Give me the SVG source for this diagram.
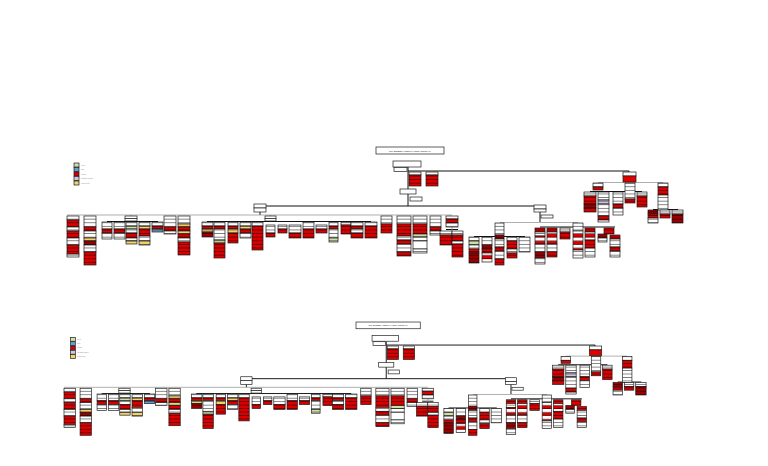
<svg xmlns="http://www.w3.org/2000/svg" xmlns:xlink="http://www.w3.org/1999/xlink" width="768" height="466" viewBox="0 0 768 466">
<defs>
<pattern id="pW" width="4" height="3.6" patternUnits="userSpaceOnUse"><rect width="4" height="3.6" fill="#fff"/><rect y="3" width="4" height="0.6" fill="#333"/></pattern>
<pattern id="pR" width="4" height="3.6" patternUnits="userSpaceOnUse"><rect width="4" height="3.6" fill="#d80000"/><rect y="3" width="4" height="0.6" fill="#300"/></pattern>
<pattern id="pD" width="4" height="3.6" patternUnits="userSpaceOnUse"><rect width="4" height="3.6" fill="#9a0000"/><rect y="3" width="4" height="0.6" fill="#200"/></pattern>
<pattern id="pM" width="4" height="7.2" patternUnits="userSpaceOnUse"><rect width="4" height="3.6" fill="#fff"/><rect y="3.6" width="4" height="3.6" fill="#d80000"/><rect y="3" width="4" height="0.6" fill="#333"/><rect y="6.6" width="4" height="0.6" fill="#300"/></pattern>
<pattern id="pY" width="4" height="3.6" patternUnits="userSpaceOnUse"><rect width="4" height="3.6" fill="#f2d36a"/><rect y="3" width="4" height="0.6" fill="#333"/></pattern>
<pattern id="pG" width="4" height="3.6" patternUnits="userSpaceOnUse"><rect width="4" height="3.6" fill="#cfe0a6"/><rect y="3" width="4" height="0.6" fill="#333"/></pattern>
<pattern id="pL" width="4" height="3.6" patternUnits="userSpaceOnUse"><rect width="4" height="3.6" fill="#cdc6dc"/><rect y="3" width="4" height="0.6" fill="#333"/></pattern>
<pattern id="pB" width="4" height="3.6" patternUnits="userSpaceOnUse"><rect width="4" height="3.6" fill="#5f9fd2"/><rect y="3" width="4" height="0.6" fill="#333"/></pattern>
</defs>
<style>
.n rect{stroke:#1a1a1a;stroke-width:0.7}
.h{fill:#fff}
.w{fill:url(#pW)} .r{fill:url(#pR)} .d{fill:url(#pD)} .m{fill:url(#pM)}
.y{fill:url(#pY)} .g{fill:url(#pG)} .l{fill:url(#pL)} .b{fill:url(#pB)}
.lk{stroke:#111;stroke-width:1;fill:none}
.lg{stroke:#999;stroke-width:0.8;fill:none}
.t{font-family:"Liberation Sans",Arial,sans-serif;font-size:2.2px;fill:#222;text-anchor:middle}
.lt{font-family:"Liberation Sans",Arial,sans-serif;font-size:1.6px;fill:#888}
</style>
<rect width="768" height="466" fill="#fff"/>
<g id="chart">
<g id="connectors">
<path class="lk" d="M408,167V206M408,171H629V172M260,206H540M260,212V215M540,212V222M474,236.5H525M540,227H615M590,191.5H642M653,209.5H678M107,221.5H158M207,221.5H371M446,229.5H458"/>
<path class="lg" d="M67,215H452M500,222.5H578M598,182.5H663M131,215V216M270,215V216M452,227V231"/>
</g>
<g id="legend" class="n">
<rect x="74" y="163" width="5" height="4" fill="#cfe0a6"/>
<rect x="74" y="167.5" width="5" height="4" fill="#5f9fd2"/>
<rect x="74" y="172" width="5" height="4" fill="#d80000"/>
<rect x="74" y="176.5" width="5" height="4" fill="#cdc6dc"/>
<rect x="74" y="181" width="5" height="4" fill="#f2d36a"/>
<text class="lt" x="81" y="165.5">Filled</text>
<text class="lt" x="81" y="170">New</text>
<text class="lt" x="81" y="174.5">Vacant</text>
<text class="lt" x="81" y="179">Contract position</text>
<text class="lt" x="81" y="183.5">Frozen post</text>
</g>
<g id="title" class="n"><rect class="h" x="376" y="147" width="68" height="7"/><text class="t" x="410" y="151.5">DR. ERNEST HOSPITAL ORGANOGRAM</text></g>
<g id="director" class="n"><rect class="h" x="393" y="161" width="28" height="6"/><rect class="h" x="394" y="167.5" width="13" height="4"/></g>
<g id="dir-units" class="n"><rect class="h" x="409" y="172" width="12" height="3"/><rect class="r" x="409" y="175" width="12" height="11"/><rect class="h" x="426" y="172" width="12" height="3"/><rect class="r" x="426" y="175" width="12" height="11"/></g>
<g id="deputy" class="n"><rect class="h" x="400" y="189" width="16" height="5"/><rect class="h" x="410" y="197" width="12" height="4"/></g>
<g id="left-head" class="n"><rect class="h" x="254" y="204" width="12" height="4"/><rect class="h" x="254" y="208" width="12" height="4"/></g>
<g id="right-head" class="n"><rect class="h" x="534" y="205" width="12" height="4"/><rect class="h" x="534" y="209" width="12" height="3"/><rect class="h" x="541" y="215" width="12" height="3"/></g>
<g id="n1" class="n"><rect class="w" x="67" y="216" width="12" height="4"/><rect class="r" x="67" y="220" width="12" height="7"/><rect class="w" x="67" y="227" width="12" height="4"/><rect class="r" x="67" y="231" width="12" height="7"/><rect class="w" x="67" y="238" width="12" height="7"/><rect class="r" x="67" y="245" width="12" height="9"/><rect class="w" x="67" y="254" width="12" height="3"/></g>
<g id="n2" class="n"><rect class="w" x="84" y="216" width="12" height="11"/><rect class="r" x="84" y="227" width="12" height="4"/><rect class="w" x="84" y="231" width="12" height="7"/><rect class="y" x="84" y="238" width="12" height="3"/><rect class="d" x="84" y="241" width="12" height="4"/><rect class="w" x="84" y="245" width="12" height="7"/><rect class="r" x="84" y="252" width="12" height="13"/></g>
<g id="n3" class="n"><rect class="h" x="125" y="216" width="12" height="2.5"/><rect class="h" x="125" y="218.5" width="12" height="2.5"/></g>
<g id="n3a" class="n"><rect class="w" x="102" y="222" width="10" height="7"/><rect class="r" x="102" y="229" width="10" height="4"/><rect class="w" x="102" y="233" width="10" height="6"/></g>
<g id="n3b" class="n"><rect class="w" x="114" y="222" width="11" height="7"/><rect class="r" x="114" y="229" width="11" height="4"/><rect class="w" x="114" y="233" width="11" height="6"/></g>
<g id="n3c" class="n"><rect class="w" x="126" y="222" width="11" height="4"/><rect class="g" x="126" y="226" width="11" height="3"/><rect class="w" x="126" y="229" width="11" height="4"/><rect class="r" x="126" y="233" width="11" height="5"/><rect class="w" x="126" y="238" width="11" height="3"/><rect class="y" x="126" y="241" width="11" height="3"/></g>
<g id="n3d" class="n"><rect class="w" x="139" y="222" width="11" height="4"/><rect class="y" x="139" y="226" width="11" height="3"/><rect class="r" x="139" y="229" width="11" height="7"/><rect class="w" x="139" y="236" width="11" height="5"/><rect class="y" x="139" y="241" width="11" height="4"/></g>
<g id="n3e" class="n"><rect class="w" x="152" y="222" width="11" height="4"/><rect class="r" x="152" y="226" width="11" height="3"/><rect class="b" x="152" y="229" width="11" height="3"/></g>
<g id="n4" class="n"><rect class="w" x="164" y="216" width="12" height="11"/><rect class="r" x="164" y="227" width="12" height="4"/><rect class="w" x="164" y="231" width="12" height="3"/></g>
<g id="n5" class="n"><rect class="w" x="178" y="216" width="12" height="8"/><rect class="y" x="178" y="224" width="12" height="3"/><rect class="r" x="178" y="227" width="12" height="4"/><rect class="y" x="178" y="231" width="12" height="3"/><rect class="r" x="178" y="234" width="12" height="4"/><rect class="w" x="178" y="238" width="12" height="4"/><rect class="r" x="178" y="242" width="12" height="13"/></g>
<g id="mid-head" class="n"><rect class="h" x="265" y="216" width="11" height="2.5"/><rect class="h" x="265" y="218.5" width="11" height="2.5"/></g>
<g id="n6" class="n"><rect class="w" x="202" y="222" width="11" height="4"/><rect class="r" x="202" y="226" width="11" height="3"/><rect class="y" x="202" y="229" width="11" height="3"/><rect class="d" x="202" y="232" width="11" height="5"/></g>
<g id="n7" class="n"><rect class="w" x="214" y="222" width="11" height="4"/><rect class="r" x="214" y="226" width="11" height="3"/><rect class="w" x="214" y="229" width="11" height="11"/><rect class="g" x="214" y="240" width="11" height="3"/><rect class="r" x="214" y="243" width="11" height="15"/></g>
<g id="n8" class="n"><rect class="w" x="228" y="222" width="10" height="4"/><rect class="r" x="228" y="226" width="10" height="3"/><rect class="y" x="228" y="229" width="10" height="4"/><rect class="r" x="228" y="233" width="10" height="10"/></g>
<g id="n9" class="n"><rect class="w" x="240" y="222" width="11" height="4"/><rect class="y" x="240" y="226" width="11" height="3"/><rect class="r" x="240" y="229" width="11" height="4"/><rect class="w" x="240" y="233" width="11" height="5"/></g>
<g id="n10" class="n"><rect class="w" x="252" y="222" width="11" height="4"/><rect class="r" x="252" y="226" width="11" height="24"/></g>
<g id="n11" class="n"><rect class="w" x="266" y="225" width="9" height="8"/><rect class="r" x="266" y="233" width="9" height="4"/></g>
<g id="n12" class="n"><rect class="w" x="278" y="225" width="9" height="4"/><rect class="r" x="278" y="229" width="9" height="4"/></g>
<g id="n13" class="n"><rect class="w" x="289" y="225" width="12" height="8"/><rect class="r" x="289" y="233" width="12" height="5"/></g>
<g id="n14" class="n"><rect class="w" x="303" y="222" width="11" height="7"/><rect class="r" x="303" y="229" width="11" height="9"/></g>
<g id="n15" class="n"><rect class="w" x="316" y="225" width="11" height="4"/><rect class="r" x="316" y="229" width="11" height="4"/></g>
<g id="n16" class="n"><rect class="w" x="329" y="222" width="9" height="4"/><rect class="r" x="329" y="226" width="9" height="3"/><rect class="w" x="329" y="229" width="9" height="9"/><rect class="g" x="329" y="238" width="9" height="4"/></g>
<g id="n17" class="n"><rect class="w" x="341" y="222" width="10" height="3"/><rect class="r" x="341" y="225" width="10" height="9"/></g>
<g id="n18" class="n"><rect class="w" x="351" y="222" width="12" height="4"/><rect class="r" x="351" y="226" width="12" height="3"/><rect class="w" x="351" y="229" width="12" height="4"/><rect class="r" x="351" y="233" width="12" height="5"/></g>
<g id="n19" class="n"><rect class="w" x="365" y="222" width="12" height="4"/><rect class="r" x="365" y="226" width="12" height="12"/></g>
<g id="n20" class="n"><rect class="w" x="381" y="216" width="11" height="8"/><rect class="r" x="381" y="224" width="11" height="9"/></g>
<g id="n21" class="n"><rect class="w" x="397" y="216" width="14" height="8"/><rect class="r" x="397" y="224" width="14" height="12"/><rect class="w" x="397" y="236" width="14" height="4"/><rect class="r" x="397" y="240" width="14" height="4"/><rect class="w" x="397" y="244" width="14" height="8"/><rect class="r" x="397" y="252" width="14" height="4"/></g>
<g id="n22" class="n"><rect class="w" x="413" y="216" width="14" height="8"/><rect class="r" x="413" y="224" width="14" height="10"/><rect class="g" x="413" y="234" width="14" height="3"/><rect class="w" x="413" y="237" width="14" height="4"/><rect class="h" x="413" y="241" width="14" height="8"/><rect class="w" x="413" y="249" width="14" height="4"/></g>
<g id="n23" class="n"><rect class="w" x="430" y="216" width="11" height="11"/><rect class="r" x="430" y="227" width="11" height="4"/><rect class="w" x="430" y="231" width="11" height="4"/></g>
<g id="n24" class="n"><rect class="w" x="446" y="216" width="12" height="3"/><rect class="r" x="446" y="219" width="12" height="4"/><rect class="w" x="446" y="223" width="12" height="4"/></g>
<g id="n24a" class="n"><rect class="w" x="440" y="231" width="12" height="4"/><rect class="r" x="440" y="235" width="12" height="10"/></g>
<g id="n24b" class="n"><rect class="w" x="452" y="231" width="11" height="4"/><rect class="r" x="452" y="235" width="11" height="6"/><rect class="w" x="452" y="241" width="11" height="3"/><rect class="r" x="452" y="244" width="11" height="13"/></g>
<g id="nA" class="n"><rect class="w" x="495" y="223" width="9" height="12"/><rect class="d" x="495" y="235" width="9" height="4"/><rect class="w" x="495" y="239" width="9" height="8"/><rect class="r" x="495" y="247" width="9" height="4"/><rect class="w" x="495" y="251" width="9" height="8"/><rect class="r" x="495" y="259" width="9" height="6"/></g>
<g id="nA1" class="n"><rect class="w" x="469" y="237" width="10" height="4"/><rect class="g" x="469" y="241" width="10" height="4"/><rect class="w" x="469" y="245" width="10" height="4"/><rect class="r" x="469" y="249" width="10" height="4"/><rect class="d" x="469" y="253" width="10" height="10"/></g>
<g id="nA2" class="n"><rect class="w" x="482" y="237" width="10" height="8"/><rect class="d" x="482" y="245" width="10" height="4"/><rect class="r" x="482" y="249" width="10" height="4"/><rect class="m" x="482" y="253" width="10" height="9"/></g>
<g id="nA3" class="n"><rect class="w" x="507" y="237" width="10" height="4"/><rect class="r" x="507" y="241" width="10" height="8"/><rect class="w" x="507" y="249" width="10" height="4"/><rect class="r" x="507" y="253" width="10" height="5"/></g>
<g id="nA4" class="n"><rect class="w" x="519" y="237" width="11" height="15"/></g>
<g id="nB" class="n"><rect class="w" x="573" y="223" width="10" height="8"/><rect class="m" x="573" y="231" width="10" height="19"/><rect class="w" x="573" y="250" width="10" height="8"/></g>
<g id="nB1" class="n"><rect class="r" x="535" y="228" width="10" height="4"/><rect class="w" x="535" y="232" width="10" height="4"/><rect class="m" x="535" y="236" width="10" height="8"/><rect class="w" x="535" y="244" width="10" height="8"/><rect class="d" x="535" y="252" width="10" height="6"/><rect class="w" x="535" y="258" width="10" height="6"/></g>
<g id="nB2" class="n"><rect class="r" x="547" y="228" width="10" height="4"/><rect class="m" x="547" y="232" width="10" height="12"/><rect class="w" x="547" y="244" width="10" height="8"/><rect class="r" x="547" y="252" width="10" height="5"/></g>
<g id="nB3" class="n"><rect class="w" x="560" y="228" width="10" height="4"/><rect class="r" x="560" y="232" width="10" height="7"/></g>
<g id="nB4" class="n"><rect class="r" x="585" y="228" width="10" height="4"/><rect class="m" x="585" y="232" width="10" height="8"/><rect class="r" x="585" y="240" width="10" height="8"/><rect class="w" x="585" y="248" width="10" height="9"/></g>
<g id="nB5" class="n"><rect class="d" x="598" y="234" width="9" height="4"/><rect class="w" x="598" y="238" width="9" height="4"/></g>
<g id="nB6" class="n"><rect class="r" x="604" y="228" width="10" height="6"/></g>
<g id="nB7" class="n"><rect class="r" x="610" y="235" width="10" height="4"/><rect class="w" x="610" y="239" width="10" height="8"/><rect class="r" x="610" y="247" width="10" height="4"/><rect class="w" x="610" y="251" width="10" height="6"/></g>
<g id="nT" class="n"><rect class="h" x="623" y="172" width="13" height="4"/><rect fill="#e00000" x="623" y="176" width="13" height="6"/></g>
<g id="nT1" class="n"><rect class="w" x="593" y="183" width="10" height="4"/><rect class="r" x="593" y="187" width="10" height="3"/></g>
<g id="nT1a" class="n"><rect class="w" x="584" y="192" width="12" height="4"/><rect class="r" x="584" y="196" width="12" height="8"/><rect class="d" x="584" y="204" width="12" height="4"/><rect class="r" x="584" y="208" width="12" height="4"/></g>
<g id="nT1b" class="n"><rect class="w" x="598" y="192" width="11" height="8"/><rect class="l" x="598" y="200" width="11" height="4"/><rect class="w" x="598" y="204" width="11" height="12"/><rect class="r" x="598" y="216" width="11" height="4"/><rect class="w" x="598" y="220" width="11" height="2"/></g>
<g id="nT1c" class="n"><rect class="w" x="613" y="192" width="10" height="12"/><rect class="r" x="613" y="204" width="10" height="4"/><rect class="w" x="613" y="208" width="10" height="7"/></g>
<g id="nTc" class="n"><rect class="w" x="625" y="183" width="10" height="16"/><rect class="r" x="625" y="199" width="10" height="4"/></g>
<g id="nT1d" class="n"><rect class="w" x="637" y="192" width="10" height="4"/><rect class="r" x="637" y="196" width="10" height="11"/></g>
<g id="nT2" class="n"><rect class="w" x="658" y="183" width="10" height="4"/><rect class="r" x="658" y="187" width="10" height="8"/><rect class="w" x="658" y="195" width="10" height="15"/></g>
<g id="nT2a" class="n"><rect class="d" x="648" y="210" width="10" height="4"/><rect class="r" x="648" y="214" width="10" height="4"/><rect class="w" x="648" y="218" width="10" height="5"/></g>
<g id="nT2b" class="n"><rect class="w" x="660" y="210" width="10" height="4"/><rect class="r" x="660" y="214" width="10" height="4"/></g>
<g id="nT2c" class="n"><rect class="w" x="672" y="210" width="11" height="4"/><rect class="d" x="672" y="214" width="11" height="9"/></g>
</g>
<use id="chart-copy" xlink:href="#chart" href="#chart" transform="matrix(0.945,0,0,0.96,0.68,180.9)"/>
</svg>
